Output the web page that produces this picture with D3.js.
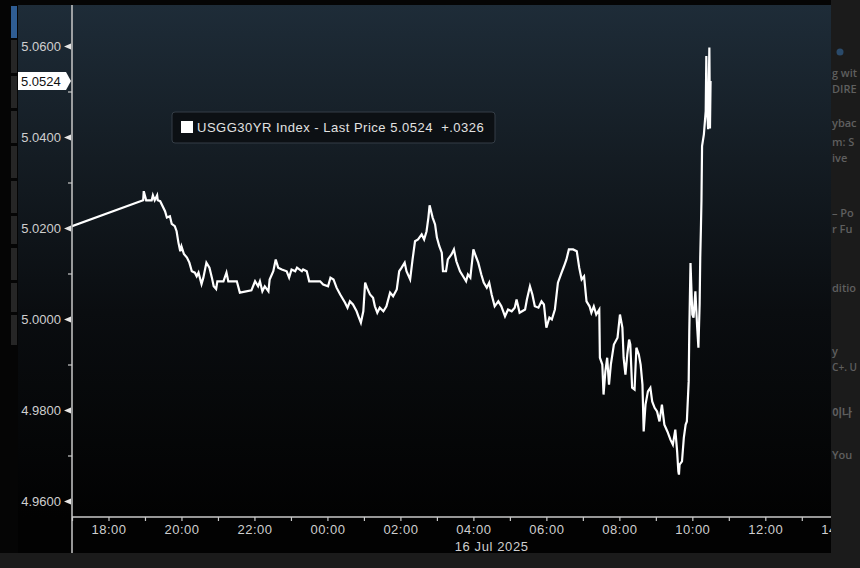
<!DOCTYPE html>
<html><head><meta charset="utf-8">
<script src="https://cdn.jsdelivr.net/npm/d3@7"></script>
<style>
html,body{margin:0;padding:0;background:#1a1a1a;overflow:hidden;}
svg{display:block;}
</style>
</head><body>
<script>
// ---- data ----
const times = ["17:00","18:57","18:58","19:02","19:11","19:13","19:16","19:20","19:21","19:25","19:33","19:36","19:41","19:44","19:49","19:52","19:55","19:58","20:00","20:04","20:09","20:13","20:17","20:22","20:25","20:28","20:33","20:36","20:41","20:46","20:50","20:53","20:57","20:59","21:09","21:14","21:17","21:31","21:36","21:55","22:01","22:06","22:09","22:13","22:17","22:23","22:25","22:31","22:35","22:39","22:45","22:53","22:57","23:01","23:07","23:10","23:18","23:20","23:26","23:30","23:42","23:48","23:53","00:01","00:05","00:10","00:15","00:21","00:29","00:33","00:37","00:42","00:48","00:51","00:55","00:59","01:02","01:05","01:10","01:15","01:18","01:22","01:26","01:32","01:37","01:43","01:48","01:54","01:58","02:02","02:07","02:10","02:16","02:20","02:24","02:29","02:35","02:39","02:43","02:46","02:48","02:53","02:57","03:00","03:04","03:08","03:10","03:15","03:18","03:24","03:28","03:32","03:38","03:43","03:48","03:51","03:55","04:00","04:04","04:08","04:13","04:17","04:22","04:26","04:30","04:35","04:41","04:46","04:52","04:57","05:03","05:08","05:11","05:16","05:25","05:28","05:33","05:37","05:41","05:47","05:52","05:56","06:00","06:05","06:09","06:14","06:19","06:25","06:29","06:33","06:37","06:44","06:50","06:54","06:58","07:02","07:06","07:11","07:14","07:18","07:22","07:27","07:28","07:32","07:34","07:37","07:40","07:43","07:46","07:51","07:57","08:01","08:05","08:07","08:10","08:13","08:16","08:18","08:21","08:25","08:28","08:32","08:35","08:38","08:40","08:43","08:47","08:51","08:54","08:58","09:02","09:06","09:10","09:14","09:19","09:24","09:28","09:32","09:35","09:37","09:38","09:39","09:43","09:46","09:49","09:51","09:54","09:55","09:57","10:00","10:02","10:05","10:08","10:10","10:12","10:13","10:14","10:15","10:16","10:19","10:22","10:23","10:24","10:26","10:28","10:29","10:30"];
const values = [5.0205,5.0262,5.0282,5.0262,5.0262,5.0273,5.0262,5.0273,5.0262,5.0260,5.0238,5.0224,5.0227,5.0210,5.0205,5.0194,5.0169,5.0150,5.0161,5.0144,5.0136,5.0125,5.0106,5.0103,5.0095,5.0103,5.0078,5.0092,5.0125,5.0114,5.0092,5.0073,5.0067,5.0084,5.0084,5.0103,5.0084,5.0084,5.0059,5.0064,5.0084,5.0073,5.0084,5.0062,5.0073,5.0062,5.0088,5.0106,5.0132,5.0114,5.0110,5.0106,5.0092,5.0110,5.0106,5.0114,5.0106,5.0110,5.0106,5.0084,5.0084,5.0084,5.0077,5.0073,5.0092,5.0088,5.0070,5.0055,5.0037,5.0026,5.0040,5.0033,5.0018,5.0007,4.9993,5.0018,5.0081,5.0070,5.0055,5.0048,5.0029,5.0015,5.0026,5.0018,5.0029,5.0059,5.0051,5.0066,5.0106,5.0114,5.0125,5.0106,5.0088,5.0132,5.0172,5.0176,5.0187,5.0176,5.0194,5.0224,5.0251,5.0224,5.0209,5.0180,5.0161,5.0147,5.0106,5.0106,5.0132,5.0143,5.0154,5.0128,5.0106,5.0095,5.0084,5.0099,5.0092,5.0154,5.0139,5.0125,5.0099,5.0081,5.0070,5.0081,5.0055,5.0029,5.0040,5.0029,5.0007,5.0022,5.0018,5.0026,5.0044,5.0015,5.0022,5.0044,5.0073,5.0055,5.0029,5.0026,5.0040,5.0033,4.9982,5.0004,5.0000,5.0022,5.0081,5.0103,5.0117,5.0132,5.0154,5.0154,5.0150,5.0114,5.0088,5.0095,5.0040,5.0029,5.0015,5.0029,5.0011,5.0022,4.9916,4.9901,4.9835,4.9886,4.9916,4.9857,4.9901,4.9945,4.9960,5.0011,4.9982,4.9916,4.9879,4.9923,4.9956,4.9945,4.9850,4.9846,4.9938,4.9923,4.9901,4.9857,4.9754,4.9813,4.9842,4.9850,4.9820,4.9806,4.9798,4.9776,4.9813,4.9769,4.9754,4.9736,4.9725,4.9758,4.9710,4.9666,4.9659,4.9681,4.9688,4.9740,4.9769,4.9776,4.9864,4.9974,5.0124,5.0011,5.0004,5.0062,4.9982,4.9938,5.0033,5.0136,5.0194,5.0260,5.0381,5.0407,5.0458,5.0579,5.0470,5.0418,5.0598,5.0420,5.0524];
const yMajorTicks = [4.96, 4.98, 5.00, 5.02, 5.04, 5.06];
const yMinorTicks = [4.97, 4.99, 5.01, 5.03, 5.05];
const xLabelHours = ["18:00","20:00","22:00","00:00","02:00","04:00","06:00","08:00","10:00","12:00","14:00"];
const dateLabel = "16 Jul 2025";
const seriesName = "USGG30YR Index - Last Price";
const lastPrice = 5.0524;
const netChange = "+.0326";
const sidePanelText = [["g wit",73],["DIRE",89],["ybac",123],["m: S",142],["ive",158],["\u2013 Po",213],["r Fu",229],["ditio",288],["y",351],["C+. U",367],["\uC774\uB098",413],["You",455]];

// ---- helpers ----
function parseT(s){
  const [h,m] = s.split(":").map(Number);
  return h >= 17 ? new Date(2025,6,15,h,m) : new Date(2025,6,16,h,m);
}
const data = times.map((t,i)=>({t:parseT(t), v:values[i]}));

const W = 860, H = 568;
const svg = d3.select("body").append("svg").attr("width",W).attr("height",H);

const panel = {x0:18, x1:831, y0:5, y1:553};
const plot = {x0:72, x1:831, y0:5, y1:517};

const x = d3.scaleTime()
  .domain([new Date(2025,6,15,17,0), new Date(2025,6,16,15,0)])
  .range([72, 72 + 22*36.49]);
const y = d3.scaleLinear().domain([4.96, 5.06]).range([501.5, 46.5]);

// backgrounds
svg.append("rect").attr("x",0).attr("y",0).attr("width",W).attr("height",H).attr("fill","#1b1b1b");
svg.append("rect").attr("x",0).attr("y",0).attr("width",W).attr("height",5).attr("fill","#050505");
svg.append("rect").attr("x",0).attr("y",0).attr("width",18).attr("height",553).attr("fill","#050505");
const defs = svg.append("defs");
const grad = defs.append("linearGradient").attr("id","bg").attr("x1",0).attr("y1",0).attr("x2",0).attr("y2",1);
grad.append("stop").attr("offset","0%").attr("stop-color","#1e2c38");
grad.append("stop").attr("offset","30%").attr("stop-color","#141c23");
grad.append("stop").attr("offset","60%").attr("stop-color","#0a0d10");
grad.append("stop").attr("offset","100%").attr("stop-color","#020202");
svg.append("rect").attr("x",panel.x0).attr("y",panel.y0).attr("width",panel.x1-panel.x0).attr("height",plot.y1-panel.y0).attr("fill","url(#bg)");
svg.append("rect").attr("x",panel.x0).attr("y",plot.y1).attr("width",panel.x1-panel.x0).attr("height",panel.y1-plot.y1).attr("fill","#020202");

// left scroll strip
svg.append("rect").attr("x",11).attr("y",6).attr("width",6).attr("height",32).attr("fill","#2f5d93");
[[40,73],[76,108],[111,143],[146,178],[181,213],[216,244],[248,280],[283,312],[315,345]].forEach(([a,b])=>{
  svg.append("rect").attr("x",11).attr("y",a).attr("width",6).attr("height",b-a).attr("fill","#262626");
});

// clip for line
defs.append("clipPath").attr("id","clip").append("rect")
  .attr("x",plot.x0).attr("y",plot.y0).attr("width",plot.x1-plot.x0).attr("height",plot.y1-plot.y0);

// series line
const line = d3.line().x(d=>x(d.t)).y(d=>y(d.v));
svg.append("path").datum(data).attr("clip-path","url(#clip)")
  .attr("d",line).attr("fill","none").attr("stroke","#ffffff")
  .attr("stroke-width",2.2).attr("stroke-linejoin","miter");

// axes lines
svg.append("line").attr("x1",72).attr("x2",72).attr("y1",5).attr("y2",553).attr("stroke","#c9c9c9").attr("stroke-width",1.5);
svg.append("line").attr("x1",72).attr("x2",831).attr("y1",517).attr("y2",517).attr("stroke","#c9c9c9").attr("stroke-width",1.5);

const font = "'Liberation Sans', Arial, sans-serif";

// x axis (hourly ticks, labels every 2h)
const xAxis = d3.axisBottom(x)
  .ticks(d3.timeHour.every(1))
  .tickSize(4)
  .tickFormat(d => xLabelHours.includes(d3.timeFormat("%H:%M")(d)) ? d3.timeFormat("%H:%M")(d) : "");
const gx = svg.append("g").attr("transform","translate(0,517)").call(xAxis);
gx.select(".domain").remove();
gx.selectAll(".tick line").attr("stroke","#c9c9c9").attr("stroke-width",1.2);
gx.selectAll(".tick text").attr("fill","#cfcfcf").attr("font-family",font).attr("font-size",13)
  .attr("letter-spacing","0.5px").attr("dy","0.9em").attr("y",5);
svg.append("text").attr("x",x(new Date(2025,6,16,4,30))).attr("y",551).attr("text-anchor","middle")
  .attr("fill","#cfcfcf").attr("font-family",font).attr("font-size",13).attr("letter-spacing","0.6px").text(dateLabel);

// y axis
const gy = svg.append("g");
yMajorTicks.forEach(v=>{
  const yy = y(v);
  gy.append("text").attr("x",61).attr("y",yy).attr("dy","0.36em").attr("text-anchor","end")
    .attr("fill","#cfcfcf").attr("font-family",font).attr("font-size",13).text(v.toFixed(4));
  gy.append("path").attr("d",`M${64},${yy} L${71},${yy-3} L${71},${yy+3} Z`).attr("fill","#e6e6e6");
});
yMinorTicks.forEach(v=>{
  const yy = y(v);
  gy.append("line").attr("x1",68).attr("x2",72).attr("y1",yy).attr("y2",yy).attr("stroke","#c9c9c9").attr("stroke-width",1.2);
});

// last price tag
const ly = y(lastPrice);
svg.append("path").attr("d",`M18,${ly-9} L66,${ly-9} L71,${ly} L66,${ly+9} L18,${ly+9} Z`).attr("fill","#ffffff");
svg.append("text").attr("x",21).attr("y",ly).attr("dy","0.36em").attr("fill","#111").attr("font-family",font).attr("font-size",13).text(lastPrice.toFixed(4));

// legend
const lg = svg.append("g");
lg.append("rect").attr("x",172).attr("y",112).attr("width",323).attr("height",31).attr("rx",3)
  .attr("fill","#0c1014").attr("stroke","#343d46").attr("stroke-width",1);
lg.append("rect").attr("x",181).attr("y",121).attr("width",12).attr("height",12).attr("fill","#ffffff");
lg.append("text").attr("x",197).attr("y",127.5).attr("dy","0.36em").attr("fill","#e2e2e2")
  .attr("font-family",font).attr("font-size",13).attr("letter-spacing","0.5px")
  .attr("xml:space","preserve")
  .text(`${seriesName} ${lastPrice.toFixed(4)}  ${netChange}`);

// right side panel (cut-off neighbouring window)
svg.append("rect").attr("x",831).attr("y",0).attr("width",29).attr("height",H).attr("fill","#1b1b1b");
svg.append("circle").attr("cx",840).attr("cy",52).attr("r",3.5).attr("fill","#2a4a6a");
sidePanelText.forEach(([t,yy])=>{
  const tx = svg.append("text").attr("x",832).attr("y",yy).attr("dy","0.36em").attr("fill","#5f5f5f")
    .attr("font-family","'Open Sans', 'Noto Sans CJK KR', sans-serif").attr("font-weight",600).attr("font-size",11).text(t);
  const len = tx.node().getComputedTextLength();
  if (len > 25) tx.attr("textLength",25).attr("lengthAdjust","spacingAndGlyphs");
});
</script>
</body></html>
